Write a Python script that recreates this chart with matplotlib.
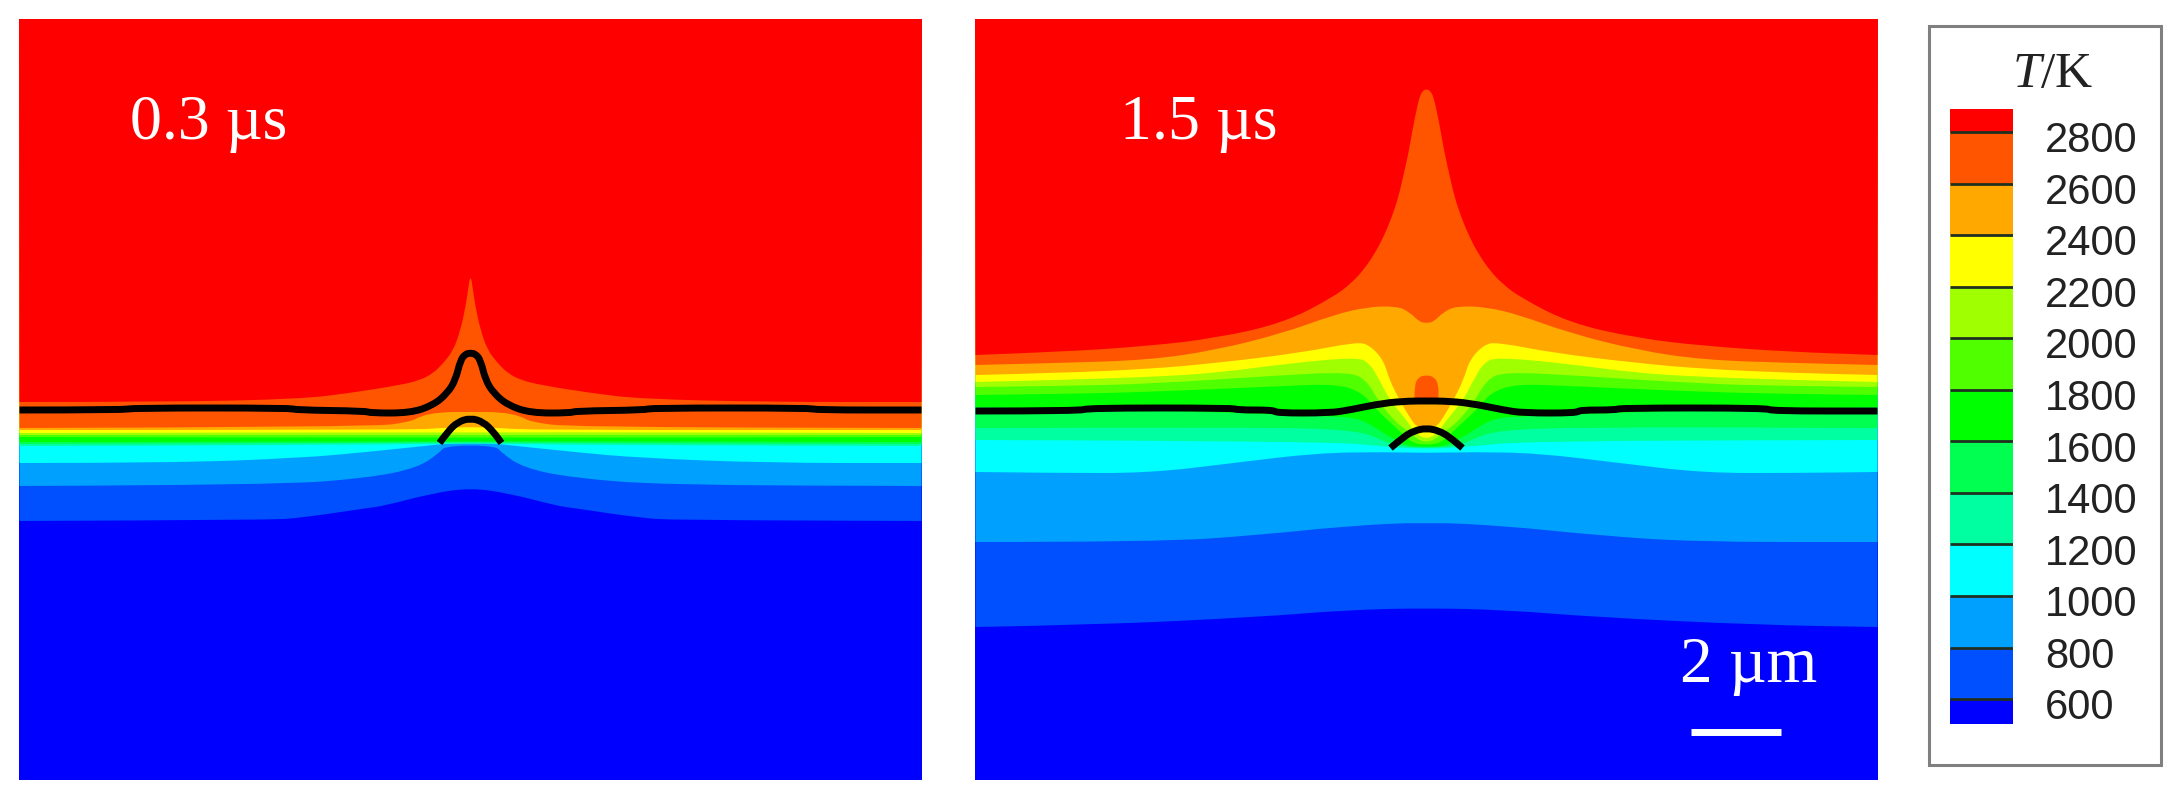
import matplotlib
matplotlib.use("Agg")
import matplotlib.pyplot as plt
from matplotlib.patches import PathPatch, Rectangle
from matplotlib.path import Path
import numpy as np

W, H = 2177, 805

plt.rcParams["font.family"] = ["Liberation Sans", "DejaVu Sans"]
plt.rcParams["mathtext.fontset"] = "custom"
plt.rcParams["mathtext.it"] = "Liberation Serif:italic"
plt.rcParams["mathtext.rm"] = "Liberation Serif"

levels = [600, 800, 1000, 1200, 1400, 1600, 1800, 2000, 2200, 2400, 2600, 2800]
band_colors = ["#0000ff", "#0050ff", "#00a0ff", "#00ffff", "#00ffa0", "#00ff50", "#00ff00",
               "#50ff00", "#a0ff00", "#ffff00", "#ffa800", "#ff5500", "#ff0000"]

# isotherms, half profiles (distance from centre, y)
a_600 = [(451, 521), (203, 520), (170, 518), (103, 508), (87, 506), (37, 493), (0, 488)]
a_800 = [(451, 486), (193, 485), (103, 478), (53, 468), (30, 452), (27, 447), (0, 445)]
a_1000 = [(451, 463), (300, 463), (170, 458), (103, 452), (37, 445), (27, 444), (0, 443)]
a_1200 = [(451, 446), (100, 445), (0, 443)]
a_1400 = [(451, 444), (100, 443), (0, 442)]
a_1600 = [(451, 442), (0, 441)]
a_1800 = [(451, 437), (0, 438)]
a_2000 = [(451, 435), (0, 435)]
a_2200 = [(451, 433), (0, 432)]
a_2400 = [(451, 430), (60, 430), (30, 428), (0, 427)]
a_2600 = [(451, 428), (100, 427), (60, 422), (50, 416), (30, 412), (0, 412)]
a_2800 = [(451, 402), (300, 402), (170, 399), (120, 393), (70, 385), (50, 380), (37, 373),
          (27, 363), (17, 350), (10, 330), (5, 307), (2, 287), (1, 280), (0, 278), (0, 278)]
a_line = [(451, 410), (345, 410), (340, 408), (180, 408), (175, 410), (105, 411), (100, 413),
          (60, 413), (37, 405), (23, 393), (15, 380), (10, 360), (5, 354), (0, 353)]
a_arc = [(31, 443), (23, 432), (13, 422), (0, 418)]

b_600 = [(451, 627), (333, 625), (167, 617), (80, 610), (0, 608)]
b_800 = [(451, 542), (267, 542), (167, 535), (80, 526), (0, 522)]
b_1000 = [(451, 472), (367, 473), (277, 473), (193, 463), (110, 453), (43, 452), (0, 453)]
b_1200 = [(451, 440), (100, 441), (40, 447), (0, 449)]
b_1400 = [(451, 428), (167, 427), (70, 430), (45, 440), (30, 446), (0, 448)]
b_1600 = [(451, 407), (277, 410), (100, 416), (70, 418), (55, 425), (40, 435), (20, 446), (0, 447)]
b_1800 = [(451, 395), (367, 394), (277, 392), (143, 386), (90, 384), (65, 392), (50, 410),
          (30, 428), (15, 443), (0, 445)]
b_2000 = [(451, 387), (367, 386), (277, 384), (143, 375), (77, 372), (60, 380), (47, 403),
          (30, 423), (20, 430), (8, 440), (0, 442)]
b_2200 = [(451, 382), (367, 380), (277, 377), (210, 373), (143, 364), (70, 357), (57, 363),
          (47, 380), (37, 400), (20, 420), (12, 432), (5, 437), (0, 438)]
b_2400 = [(451, 375), (367, 373), (277, 369), (210, 363), (127, 353), (70, 342), (57, 345),
          (43, 360), (37, 380), (27, 400), (17, 417), (10, 427), (0, 430)]
b_2600 = [(451, 365), (367, 363), (277, 360), (210, 350), (143, 333), (93, 315), (60, 307),
          (30, 306), (17, 312), (7, 322), (0, 323)]
b_2800 = [(451, 355), (367, 352), (277, 346), (210, 338), (143, 323), (93, 297), (75, 283),
          (63, 270), (52, 254), (43, 237), (35, 218), (28, 197), (23, 175), (18, 153), (14, 130),
          (10, 110), (7, 97), (4, 91), (0, 89)]
b_island = [(12, 398), (12, 385), (8, 377), (0, 375)]
b_line = [(451, 411), (345, 411), (340, 408), (193, 408), (190, 410), (153, 410), (150, 413),
          (97, 413), (77, 410), (43, 403), (17, 401), (0, 401)]
b_arc = [(36, 448), (23, 437), (13, 431), (0, 428)]

panel_a = [a_600, a_800, a_1000, a_1200, a_1400, a_1600, a_1800, a_2000, a_2200, a_2400, a_2600, a_2800]
panel_b = [b_600, b_800, b_1000, b_1200, b_1400, b_1600, b_1800, b_2000, b_2200, b_2400, b_2600, b_2800]


def mirror(profile):
    d, y = np.array(profile, dtype=float).T
    return np.c_[np.r_[-d, d[-2::-1]], np.r_[y, y[-2::-1]]]


def smooth_path(pts, head=(), tail=()):
    # quadratic segments between midpoints so the contours don't look faceted
    verts = [tuple(p) for p in head] + [tuple(pts[0])]
    codes = [Path.MOVETO] + [Path.LINETO] * len(head)
    for i in range(1, len(pts) - 1):
        verts += [tuple(pts[i]), tuple((pts[i] + pts[i + 1]) / 2)]
        codes += [Path.CURVE3, Path.CURVE3]
    verts.append(tuple(pts[-1]))
    codes.append(Path.LINETO)
    for p in tail:
        verts.append(tuple(p))
        codes.append(Path.LINETO)
    return Path(verts, codes)


def px_axes(left, top, right, bottom):
    return fig.add_axes([left / W, 1 - bottom / H, (right - left) / W, (bottom - top) / H])


def draw_panel(box, isotherms, line, arc):
    ax = px_axes(*box)
    half = (box[2] - box[0]) / 2
    ax.set_xlim(-half, half)
    ax.set_ylim(box[3], box[1])
    ax.axis("off")
    ax.add_patch(Rectangle((-half, box[1]), 2 * half, box[3] - box[1], fc=band_colors[0], lw=0))
    for iso, c in zip(isotherms, band_colors[1:]):
        path = smooth_path(mirror(iso), head=[(-half, box[1])], tail=[(half, box[1])])
        ax.add_patch(PathPatch(path, fc=c, lw=0))
    for curve in (line, arc):
        ax.add_patch(PathPatch(smooth_path(mirror(curve)), fc="none", ec="black", lw=5,
                               capstyle="butt", joinstyle="round", zorder=3))
    return ax


fig = plt.figure(figsize=(W / 100, H / 100), dpi=100, facecolor="white")

ax1 = draw_panel((19, 19, 922, 780), panel_a, a_line, a_arc)
ax1.text(-341, 139, "0.3 µs", color="white", fontsize=46, family="Liberation Serif", va="baseline")

ax2 = draw_panel((975, 19, 1878, 780), panel_b, b_line, b_arc)
ax2.add_patch(PathPatch(smooth_path(mirror(b_island)), fc=band_colors[11], lw=0, zorder=1.5))
ax2.text(-307, 139, "1.5 µs", color="white", fontsize=46, family="Liberation Serif", va="baseline")
ax2.text(253, 682, "2 µm", color="white", fontsize=47, family="Liberation Serif", va="baseline")
ax2.plot([264, 354], [732, 732], color="white", lw=5, solid_capstyle="butt")

# colour key
fig.add_artist(Rectangle((1929 / W, 1 - 765 / H), (2161 - 1929) / W, (765 - 26) / H,
                         transform=fig.transFigure, fc="white", ec="#808080", lw=2.2, zorder=-1))
fig.text(2053 / W, 1 - 87 / H, r"$\mathit{T}$/K", fontsize=37, family="Liberation Serif",
         ha="center", va="baseline", color="#222222")

cax = px_axes(1950, 109, 2013, 724)
edges = [503] + levels + [2891]
cax.bar(0, np.diff(edges), bottom=edges[:-1], width=1, color=band_colors, lw=0)
cax.set_xlim(-0.5, 0.5)
cax.set_ylim(503, 2891)
cax.hlines(levels, -0.5, 0.5, color="#203020", lw=2)
for lev in levels:
    cax.annotate(str(lev), xy=(1, lev), xycoords=("axes fraction", "data"), xytext=(23, -6.5),
                 textcoords="offset points", fontsize=30, va="center", ha="left", color="#222222")
cax.axis("off")

fig.savefig("out.png", dpi=100)
